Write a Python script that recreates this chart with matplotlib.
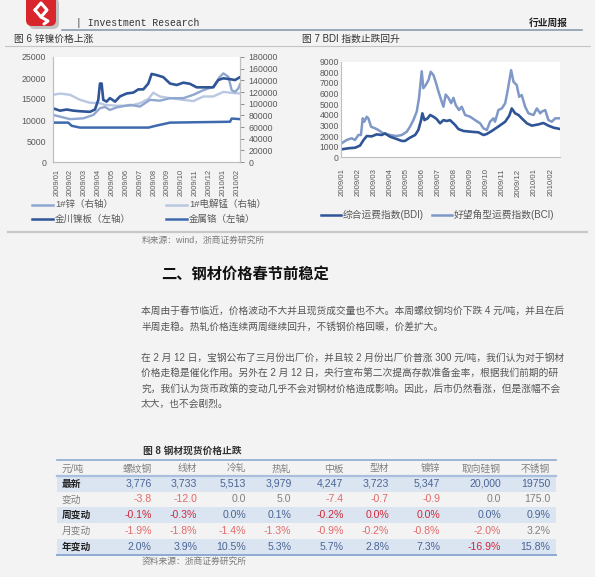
import numpy as np
import matplotlib
matplotlib.use("Agg")
import matplotlib.pyplot as plt
from matplotlib.patches import Rectangle, FancyBboxPatch

plt.rcParams["font.family"] = ["Liberation Sans", "Noto Sans CJK SC", "DejaVu Sans"]

# ── data: figure 6 (metal prices) ────────────────────────────────
months = ["2009/01", "2009/02", "2009/03", "2009/04", "2009/05", "2009/06", "2009/07",
          "2009/08", "2009/09", "2009/10", "2009/11", "2009/12", "2010/01", "2010/02"]

# x = months elapsed since the left edge of the plot
zinc_t = [0, 0.51, 1.23, 2.19, 2.91, 3.39, 3.75, 4.11, 4.60, 5.56, 6.28, 7.00, 7.72,
          8.45, 9.41, 10.13, 10.85, 11.57, 12.05, 12.30, 12.66, 12.90, 13.14, 13.38, 13.50]
zinc = [11200, 10800, 10200, 10400, 11200, 12800, 13100, 12400, 13000, 13600, 13200, 14800, 14600,
        15200, 15200, 16000, 17100, 17900, 20300, 21100, 20300, 17100, 16700, 17500, 18500]

mn_t = [0, 0.51, 1.23, 1.95, 2.67, 3.39, 3.75, 4.60, 5.56, 6.28, 6.88, 7.24, 7.72,
        8.45, 9.41, 10.13, 10.85, 11.57, 12.30, 12.78, 13.50]
mn = [16000, 16300, 16000, 14800, 14100, 14000, 13600, 13400, 13400, 14000, 15000, 16500, 15600,
      15200, 14800, 14500, 15600, 15600, 16700, 16500, 16300]

ni_t = [0, 0.51, 0.99, 1.47, 1.95, 2.67, 3.03, 3.27, 3.39, 3.51, 3.63, 3.87, 4.11, 4.48, 4.84,
        5.32, 5.80, 6.16, 6.52, 6.88, 7.12, 7.48, 7.96, 8.45, 8.93, 9.41, 9.89, 10.37, 11.09,
        11.57, 11.93, 12.30, 12.78, 13.14, 13.50]
ni = [92000, 88000, 90000, 88000, 87000, 86000, 90000, 106500, 134500, 134500, 106500, 103500,
      109500, 103500, 112500, 117500, 119000, 124500, 124500, 134500, 151000, 149000, 145500,
      134500, 132000, 136000, 134000, 128000, 128000, 128000, 140500, 143500, 142000, 140500,
      145500]

cr_t = [0, 1.10, 1.35, 1.95, 6.90, 7.40, 8.45, 12.78, 12.90, 13.50]
cr = [67500, 67500, 62000, 59000, 59000, 62000, 67500, 69000, 74500, 73500]

fig6_labels = ["1#锌（右轴）", "1#电解锰（右轴）", "金川镍板（左轴）", "金属铬（左轴）"]

# ── data: figure 7 (BDI / BCI) ───────────────────────────────────
bdi_t = [0.04, 0.46, 0.87, 1.18, 1.39, 1.60, 1.91, 2.22, 2.53, 2.74, 3.05, 3.46, 3.78, 3.98,
         4.29, 4.61, 4.81, 4.98, 5.06, 5.19, 5.39, 5.54, 5.75, 5.95, 6.16, 6.37, 6.58, 6.78,
         7.10, 7.30, 7.61, 8.13, 8.55, 8.86, 9.07, 9.38, 9.79, 10.21, 10.46, 10.62, 10.83,
         11.04, 11.24, 11.56, 11.87, 12.28, 12.59, 12.90, 13.22, 13.63]
bdi = [750, 850, 900, 1100, 1600, 2000, 1970, 2160, 2100, 2250, 1940, 1720, 1540, 1540,
       1850, 2100, 2570, 3500, 4140, 3500, 3670, 3980, 3820, 3600, 3200, 3500, 3420, 3500,
       3040, 2660, 2480, 2400, 2350, 2100, 2200, 2480, 2900, 3350, 3900, 4600, 4140,
       3980, 3670, 3200, 2980, 3100, 3230, 2980, 2790, 2660]

bci_t = [0.04, 0.35, 0.66, 0.87, 1.08, 1.24, 1.35, 1.45, 1.60, 1.70, 1.87, 2.12, 2.32, 2.63,
         3.05, 3.46, 3.78, 4.09, 4.29, 4.50, 4.71, 4.85, 5.02, 5.12, 5.27, 5.44, 5.58, 5.75,
         5.89, 6.06, 6.27, 6.37, 6.51, 6.68, 6.85, 6.99, 7.14, 7.34, 7.51, 7.72, 8.03, 8.34,
         8.65, 8.86, 9.07, 9.27, 9.48, 9.58, 9.79, 10.00, 10.21, 10.37, 10.58, 10.73, 10.93,
         11.08, 11.24, 11.45, 11.66, 11.97, 12.18, 12.39, 12.49, 12.70, 12.90, 13.11, 13.32,
         13.63]
bci = [1320, 1630, 1790, 1630, 2100, 2100, 3670, 3350, 3820, 3670, 2880, 2730, 2570, 2250,
       2100, 2000, 2100, 2410, 2880, 3500, 4300, 5550, 8100, 6500, 6800, 7270, 8050, 7740,
       7100, 6200, 5200, 4760, 5900, 5600, 5100, 5600, 4900, 4450, 4760, 3980, 3820, 3500,
       3200, 2730, 2570, 3350, 3670, 3350, 4450, 4600, 5080, 6330, 8200, 7100, 6800,
       5700, 5860, 4760, 4140, 3980, 4600, 4140, 4300, 4450, 3500, 3350, 3670,
       3670]

fig7_labels = ["综合运费指数(BDI)", "好望角型运费指数(BCI)"]

# ── data: figure 8 (steel spot price table) ──────────────────────
steel_cols = ["螺纹钢", "线材", "冷轧", "热轧", "中板", "型材", "镀锌", "取向硅钢", "不锈钢"]
row_names = ["最新", "变动", "周变动", "月变动", "年变动"]
latest = ["3,776", "3,733", "5,513", "3,979", "4,247", "3,723", "5,347", "20,000", "19750"]
change = ["-3.8", "-12.0", "0.0", "5.0", "-7.4", "-0.7", "-0.9", "0.0", "175.0"]
week_chg = ["-0.1%", "-0.3%", "0.0%", "0.1%", "-0.2%", "0.0%", "0.0%", "0.0%", "0.9%"]
month_chg = ["-1.9%", "-1.8%", "-1.4%", "-1.3%", "-0.9%", "-0.2%", "-0.8%", "-2.0%", "3.2%"]
year_chg = ["2.0%", "3.9%", "10.5%", "5.3%", "5.7%", "2.8%", "7.3%", "-16.9%", "15.8%"]
week_red_zero = ["型材", "镀锌"]   # shown in red although rounded to 0.0%

para1 = ["本周由于春节临近，价格波动不大并且现货成交量也不大。本周螺纹钢均价下跌 4 元/吨，并且在后",
         "半周走稳。热轧价格连续两周继续回升，不锈钢价格回暖，价差扩大。"]
para2 = ["在 2 月 12 日，宝钢公布了三月份出厂价，并且较 2 月份出厂价普涨 300 元/吨，我们认为对于钢材",
         "价格走稳是催化作用。另外在 2 月 12 日，央行宣布第二次提高存款准备金率，根据我们前期的研",
         "究，我们认为货币政策的变动几乎不会对钢材价格造成影响。因此，后市仍然看涨，但是涨幅不会",
         "太大，也不会剧烈。"]

# ── page setup ──────────────────────────────────────────────────
W, H = 595, 577
PAGE = "#f3f3f3"
TICK = "#595959"
SPINE = "#bfbfbf"

fig = plt.figure(figsize=(W / 100, H / 100), dpi=100, facecolor=PAGE)


def px_box(x0, y0, x1, y1):
    return [x0 / W, 1 - y1 / H, (x1 - x0) / W, (y1 - y0) / H]


page = fig.add_axes([0, 0, 1, 1], zorder=0)
page.set_xlim(0, W)
page.set_ylim(H, 0)
page.axis("off")

# header + logo
page.add_patch(FancyBboxPatch((31, 0), 26, 27, boxstyle="round,pad=2,rounding_size=6",
                              fc="#9a9a9a", ec="none", alpha=0.55))
page.add_patch(FancyBboxPatch((28, -3), 26, 27, boxstyle="round,pad=2,rounding_size=6",
                              fc="#d8262c", ec="none"))
page.plot([35, 41, 47, 41, 35], [10, 3, 10, 17, 10], color="white", lw=2.2,
          solid_capstyle="round", solid_joinstyle="round")
page.plot([41, 48, 44], [17, 21, 24], color="white", lw=2.2, solid_capstyle="round")
page.text(76, 23, "| Investment Research", family="Liberation Mono", fontsize=7,
          color="#333333", va="center")
page.text(568, 23, "行业周报", fontsize=7, color="#222222", ha="right", va="center",
          fontweight="bold")
page.plot([62, 582], [30, 30], color="#8393a8", lw=1.1)
page.text(14, 38.5, "图 6 锌镍价格上涨", fontsize=7, color="#333333", va="center")
page.text(302, 38.5, "图 7 BDI 指数止跌回升", fontsize=7, color="#333333", va="center")
page.plot([5, 590], [46, 46], color="#c4c4c4", lw=0.8)

# ── figure 6: metal prices ──────────────────────────────────────
C_ZINC, C_MN, C_NI, C_CR = "#8fa6d0", "#bac7e2", "#2f5597", "#3e6aad"

ax1 = fig.add_axes(px_box(53, 57, 240, 162), zorder=2)
ax1.set_facecolor("white")
ax1.plot(mn_t, mn, color=C_MN, lw=1.7)
ax1.plot(zinc_t, zinc, color=C_ZINC, lw=1.7)
ax1.set_xlim(0, 13.5)
ax1.set_ylim(0, 25000)
ax1.set_yticks(range(0, 25001, 5000))
ax1.set_xticks(np.arange(14) + 0.27)
ax1.set_xticklabels(months, rotation=90)
ax1.tick_params(axis="y", length=0, pad=5, labelsize=6.3, labelcolor=TICK)
ax1.tick_params(axis="x", length=0, pad=5, labelsize=5.4, labelcolor=TICK)

ax1r = ax1.twinx()
ax1r.plot(cr_t, cr, color=C_CR, lw=1.8)
ax1r.plot(ni_t, ni, color=C_NI, lw=1.9)
ax1r.set_ylim(0, 180000)
ax1r.set_yticks(range(0, 180001, 20000))
ax1r.tick_params(axis="y", length=3, width=0.7, color="#8c8c8c", pad=3,
                 labelsize=6.3, labelcolor=TICK)
for a in (ax1, ax1r):
    for s in a.spines.values():
        s.set_color(SPINE)
        s.set_linewidth(0.8)
    a.spines["top"].set_visible(False)

leg6 = [(32, 204.5, C_ZINC), (166, 204.5, C_MN), (32, 219, C_NI), (166, 219, C_CR)]
for (lx, ly, lc), lab in zip(leg6, fig6_labels):
    page.plot([lx, lx + 21], [ly, ly], color=lc, lw=1.8)
    page.text(lx + 23, ly, lab, fontsize=6.8, color=TICK, va="center")

# ── figure 7: BDI ───────────────────────────────────────────────
C_BDI, C_BCI = "#2f5597", "#7f98c8"

ax2 = fig.add_axes(px_box(341, 61.7, 560, 157.3), zorder=2)
ax2.set_facecolor("white")
ax2.plot(bci_t, bci, color=C_BCI, lw=1.8)
ax2.plot(bdi_t, bdi, color=C_BDI, lw=1.9)
ax2.set_xlim(0, 13.62)
ax2.set_ylim(0, 9000)
ax2.set_yticks(range(0, 9001, 1000))
ax2.set_xticks(np.arange(14) + 0.04)
ax2.set_xticklabels(months, rotation=90)
ax2.tick_params(axis="y", length=0, pad=1.5, labelsize=6.2, labelcolor=TICK)
ax2.tick_params(axis="x", length=0, pad=8, labelsize=5.6, labelcolor=TICK)
for k, s in ax2.spines.items():
    s.set_color(SPINE)
    s.set_linewidth(0.8)
    s.set_visible(k in ("left", "bottom"))

leg7 = [(321, 215, C_BDI), (432, 215, C_BCI)]
for (lx, ly, lc), lab in zip(leg7, fig7_labels):
    page.plot([lx, lx + 20], [ly, ly], color=lc, lw=1.8)
    page.text(lx + 22, ly, lab, fontsize=7, color=TICK, va="center")

page.plot([8, 587], [232, 232], color="#c8c8c8", lw=1.6)
page.text(142, 240, "料来源：wind，浙商证券研究所", fontsize=6.3, color="#7a7a7a", va="center")

# ── section text ────────────────────────────────────────────────
page.text(161, 274, "二、钢材价格春节前稳定", fontsize=11, color="#111111",
          va="center", fontweight="bold")
for i, line in enumerate(para1):
    page.text(141, 311 + i * 15.7, line, fontsize=7, color="#555555", va="center")
for i, line in enumerate(para2):
    page.text(141, 357.7 + i * 15.5, line, fontsize=7, color="#555555", va="center")

# ── figure 8: table ─────────────────────────────────────────────
page.text(143, 451, "图 8 钢材现货价格止跌", fontsize=7, color="#333333", va="center",
          fontweight="bold")

col_right = [151.8, 197.3, 245.9, 291.5, 343.5, 389, 440.2, 501, 550.3]
row_y = [484, 499.5, 515, 531, 546.5]
row_vals = [latest, change, week_chg, month_chg, year_chg]
shaded = [True, False, True, False, True]
SHADE = "#dbe5f1"
BLUE_TXT = "#4a6494"
RED_DARK, RED_LIGHT = "#d0283a", "#e26a6a"
GRAY_TXT = "#808080"
T_LEFT, T_RIGHT = 57, 556

for y, sh in zip(row_y, shaded):
    if sh:
        page.add_patch(Rectangle((T_LEFT, y - 7.8), T_RIGHT - T_LEFT, 15.6, fc=SHADE, ec="none"))
page.plot([T_LEFT, T_RIGHT], [459.5, 459.5], color="#8eaad2", lw=1.2)
page.plot([T_LEFT, T_RIGHT], [476.3, 476.3], color="#a9bfdd", lw=1.6)
page.plot([T_LEFT, T_RIGHT], [554.5, 554.5], color="#8eaad2", lw=1.4)

page.text(62, 468.5, "元/吨", fontsize=7, color=GRAY_TXT, va="center")
for cx, name in zip(col_right, steel_cols):
    page.text(cx, 468.5, name, fontsize=7, color=GRAY_TXT, va="center", ha="right")

for name, y, vals, sh in zip(row_names, row_y, row_vals, shaded):
    page.text(62, y, name, fontsize=7, va="center",
              color="#222222" if sh else GRAY_TXT, fontweight="bold" if sh else "normal")
    for cx, col, v in zip(col_right, steel_cols, vals):
        red = v.startswith("-") or (name == "周变动" and col in week_red_zero)
        if sh:
            c = RED_DARK if red else BLUE_TXT
        else:
            c = RED_LIGHT if red else GRAY_TXT
        page.text(cx, y, v, fontsize=7.6, color=c, va="center", ha="right")

page.text(142, 561, "资料来源：浙商证券研究所", fontsize=6.3, color="#7a7a7a", va="center")

fig.savefig("out.png", dpi=100, facecolor=PAGE)
